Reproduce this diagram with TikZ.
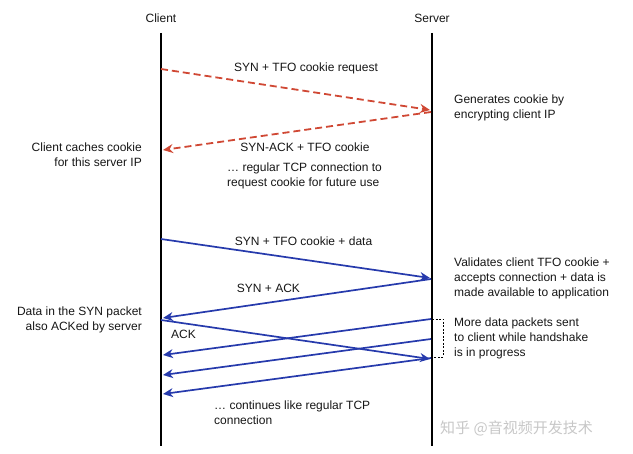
\documentclass[tikz,border=0pt]{standalone}
\usepackage{fontspec}
\setmainfont{Liberation Sans}
\newfontfamily\cjkfont{Noto Sans CJK SC}
\definecolor{cookiered}{RGB}{208, 72, 52}
\definecolor{datablue}{RGB}{38, 58, 172}
\definecolor{textdark}{RGB}{22, 22, 22}
\usepackage{tikz}
\usetikzlibrary{arrows.meta, positioning}

\tikzset{
  lifeline/.style={line width=1.9pt, black},
  cookiemsg/.style={cookiered, line width=1.8pt, dash pattern=on 7pt off 4pt, -{Stealth[length=10pt,width=9pt]}},
  datamsg/.style={datablue, line width=1.7pt, -{Stealth[length=10pt,width=9pt]}},
  lbl/.style={text=textdark, inner sep=0pt, font=\fontsize{12}{15}\selectfont},
}

\begin{document}
\begin{tikzpicture}[x=1pt, y=-1pt]
        \useasboundingbox (0,0) rectangle (633,454);
        % lifelines
        \node[lbl] (client) at (161,18) {Client};
        \node[lbl] (server) at (432,18) {Server};
        \coordinate (ctop) at (161,33);  \coordinate (cbot) at (161,446);
        \coordinate (stop) at (432,33);  \coordinate (sbot) at (432,446);
        \draw[lifeline] (ctop) -- (cbot);
        \draw[lifeline] (stop) -- (sbot);

        % cookie request
        \coordinate (c1) at (161,69);  \coordinate (s1) at (430,110);
        \coordinate (s2) at (431,112); \coordinate (c2) at (163,150);
        \draw[cookiemsg] (c1) -- (s1);
        \draw[cookiemsg] (s2) -- (c2);
        \node[lbl] (req) at (306,68) {SYN + TFO cookie request};
        \node[lbl, anchor=west, align=left] (gen) at (454,107.5) {Generates cookie by\\encrypting client IP};
        \node[lbl, anchor=east, align=right] (cache) at (142,154.5) {Client caches cookie\\for this server IP};
        \node[lbl] (synack) at (305,147) {SYN-ACK + TFO cookie};
        \node[lbl, anchor=west, align=left] (regular) at (227,175.5) {\dots\ regular TCP connection to\\request cookie for future use};

        % fast open
        \coordinate (c3) at (161,239); \coordinate (s3) at (430,278);
        \coordinate (s4) at (431,279); \coordinate (c4) at (163,318);
        \coordinate (c5) at (161,320); \coordinate (s5) at (430,359);
        \draw[datamsg] (c3) -- (s3);
        \draw[datamsg] (s4) -- (c4);
        \draw[datamsg] (c5) -- (s5);
        \foreach \n/\ys/\yc in {6/319/355, 7/339/375, 8/358/394} {
          \coordinate (s\n) at (431,\ys);
          \coordinate (c\n) at (163,\yc);
          \draw[datamsg] (s\n) -- (c\n);
        }
        \coordinate (b1) at (443,319); \coordinate (b2) at (443,357);
        \draw[black, line width=0.6pt, dash pattern=on 2pt off 1.5pt] (s6) ++(1,0) -- (b1) -- (b2) -- (432,357);

        \node[lbl] (syndata) at (303.5,241) {SYN + TFO cookie + data};
        \node[lbl] (synack2) at (268.5,288) {SYN + ACK};
        \node[lbl] (ack) at (183.5,334) {ACK};
        \node[lbl, anchor=west, align=left] (valid) at (454,278) {Validates client TFO cookie +\\accepts connection + data is\\made available to application};
        \node[lbl, anchor=east, align=right] (acked) at (142,319.5) {Data in the SYN packet\\also ACKed by server};
        \node[lbl, anchor=west, align=left] (more) at (454,338) {More data packets sent\\to client while handshake\\is in progress};
        \node[lbl, anchor=west, align=left] (cont) at (214,412.5) {\dots\ continues like regular TCP\\connection};

        \node[text=black!22, inner sep=0pt, font=\cjkfont\fontsize{15}{15}\selectfont, anchor=west] (mark) at (440,428) {知乎 @音视频开发技术};
      \end{tikzpicture}
\end{document}
